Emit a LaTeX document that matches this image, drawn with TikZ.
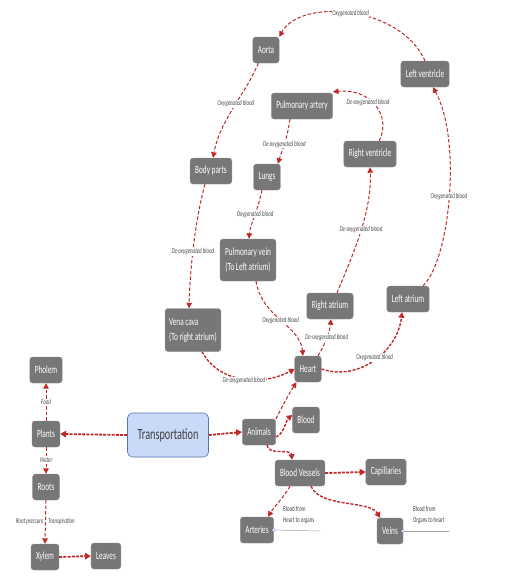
\documentclass[tikz,border=0pt]{standalone}
\usepackage{fontspec}
\newfontfamily\cf[FakeStretch=0.66]{Carlito}
\usetikzlibrary{arrows.meta}
\definecolor{boxgray}{HTML}{777777}
\definecolor{boxline}{HTML}{8E8E8E}
\definecolor{arrred}{HTML}{C0282A}
\definecolor{tfill}{HTML}{C9DAF8}
\definecolor{tdraw}{HTML}{5574B5}
\definecolor{ttext}{HTML}{404040}
\definecolor{lblgray}{HTML}{4A4A4A}
\definecolor{notegray}{HTML}{A0A0A0}
\definecolor{noteblue}{HTML}{9DB3DE}
\tikzset{
  box/.style={rectangle, rounded corners=3pt, fill=boxgray, draw=boxline, line width=0.4pt,
    text=white, font=\cf\fontsize{11}{15}\selectfont, inner xsep=5pt, inner ysep=2pt,
    minimum height=26pt, minimum width=26pt},
  tbox/.style={rectangle, rounded corners=5pt, fill=tfill, draw=tdraw, line width=0.6pt,
    text=ttext, font=\cf\fontsize{15.5}{18}\selectfont, minimum width=81pt, minimum height=44pt},
  conn/.style={draw=arrred, line width=1pt, dash pattern=on 3.5pt off 2pt,
    -{Triangle[length=5.5pt,width=5.5pt]}},
  boldconn/.style={conn, line width=1.8pt, dash pattern=on 3pt off 1.2pt,
    -{Triangle[length=6pt,width=6.5pt]}},
  midconn/.style={conn, line width=1.4pt, dash pattern=on 3pt off 1.5pt,
    -{Triangle[length=5.5pt,width=6pt]}},
  lbl/.style={font=\cf\itshape\fontsize{7.5}{8}\selectfont, text=lblgray, fill=white, inner sep=0.6pt},
  note/.style={font=\cf\fontsize{7.5}{11}\selectfont, text=black!75, align=left, inner sep=0pt, anchor=north west},
  noteline/.style={draw=notegray, line width=0.5pt}
}
\begin{document}
\begin{tikzpicture}[x=1pt,y=-1pt]
\useasboundingbox (0,0) rectangle (527,587);
\fill[white] (0,0) rectangle (527,587);

% nodes
\node[box] (ao) at (266,50) {Aorta};
\node[box] (lv) at (425,74) {Left ventricle};
\node[box] (pa) at (302,106) {Pulmonary artery};
\node[box] (rv) at (370,154) {Right ventricle};
\node[box] (bp) at (211,171) {Body parts};
\node[box] (lu) at (267,177) {Lungs};
\node[box, align=center, minimum height=42pt] (pv) at (248,260) {Pulmonary vein\\(To Left atrium)};
\node[box, align=left, minimum height=43pt, inner xsep=4pt] (vc) at (193,330) {Vena cava\\(To right atrium)};
\node[box] (ra) at (330,306) {Right atrium};
\node[box] (la) at (408,299) {Left atrium};
\node[box] (he) at (308,369) {Heart};
\node[box] (ph) at (46,370) {Pholem};
\node[box] (pl) at (46,434) {Plants};
\node[box] (ro) at (46,487) {Roots};
\node[box] (xy) at (45,557) {Xylem};
\node[box] (le) at (106,556) {Leaves};
\node[tbox] (tr) at (168,435) {Transportation};
\node[box] (an) at (259,432) {Animals};
\node[box] (bl) at (306,420) {Blood};
\node[box] (bv) at (300,473) {Blood Vessels};
\node[box] (ca) at (386,472) {Capillaries};
\node[box] (ar) at (257,530) {Arteries};
\node[box] (ve) at (390,531) {Veins};

% heart circulation
\draw[conn] (lv.north) .. controls (400,5) and (300,-2) .. (ao.north east)
  node[lbl, pos=0.5] {Oxygenated blood};
\draw[conn] (ao.240) .. controls (245,95) and (220,120) .. ([xshift=2pt]bp.north)
  node[lbl, pos=0.45] {Oxygenated blood};
\draw[conn] (rv.55) .. controls (392,115) and (370,88) .. ([yshift=1pt]pa.north east)
  node[lbl, pos=0.55, xshift=-4pt] {De-oxygenated blood};
\draw[conn] ([xshift=-12pt]pa.south) .. controls (287,140) and (282,150) .. ([xshift=11pt]lu.north)
  node[lbl, pos=0.5] {De-oxygenated blood};
\draw[conn] ([xshift=-5pt]lu.south) .. controls (258,210) and (250,225) .. ([xshift=1pt]pv.north)
  node[lbl, pos=0.45] {Oxygenated blood};
\draw[conn] ([xshift=-6pt]bp.south) .. controls (195,220) and (190,270) .. ([xshift=-4pt]vc.north)
  node[lbl, pos=0.55] {De-oxygenated blood};
\draw[conn] ([xshift=8pt]pv.south) .. controls (262,318) and (300,325) .. ([xshift=-5pt]he.north)
  node[lbl, pos=0.5] {Oxygenated blood};
\draw[midconn] ([xshift=9pt]vc.south) .. controls (220,385) and (265,385) .. (he.west)
  node[lbl, pos=0.5, yshift=-2pt] {De-oxygenated blood};
\draw[conn] ([xshift=10pt]he.north) .. controls (325,345) and (330,330) .. ([xshift=1pt]ra.south)
  node[lbl, pos=0.5] {De-oxygenated blood};
\draw[conn] ([xshift=7pt]ra.north) .. controls (355,250) and (372,210) .. (rv.south)
  node[lbl, pos=0.5] {De-oxygenated blood};
\draw[midconn] (he.east) .. controls (360,382) and (398,350) .. ([xshift=-6pt]la.south)
  node[lbl, pos=0.5, yshift=2pt] {Oxygenated blood};
\draw[conn] ([xshift=15pt]la.north) .. controls (450,260) and (462,140) .. ([xshift=8pt]lv.south)
  node[lbl, pos=0.5] {Oxygenated blood};

% plants
\draw[boldconn] (tr.west) -- (pl.east);
\draw[boldconn] (tr.east) -- (an.west);
\draw[conn] (pl.north) -- (ph.south) node[lbl, pos=0.5] {Food};
\draw[conn] (pl.south) -- (ro.north) node[lbl, pos=0.5] {Water};
\draw[conn] (ro.south) -- (xy.north)
  node[lbl, pos=0.5, anchor=east, xshift=-1pt] {Root pressure}
  node[lbl, pos=0.5, anchor=west, xshift=1.5pt] {Transpiration};
\draw[boldconn] (xy.east) -- (le.west);

% animals
\draw[conn] (an.north east) .. controls (283,405) and (290,392) .. ([xshift=2pt]he.south west);
\draw[midconn] ([yshift=-5pt]an.east) .. controls (284,434) and (286,420) .. ([yshift=5pt]bl.west);
\draw[midconn] ([xshift=8pt]an.south) .. controls (268,456) and (291,448) .. ([xshift=-8pt]bv.north);
\draw[boldconn] (bv.east) -- (ca.west);
\draw[conn] ([xshift=-10pt]bv.south) .. controls (284,497) and (274,507) .. ([xshift=11pt]ar.north);
\draw[midconn] ([xshift=11pt]bv.south) .. controls (320,508) and (370,500) .. ([xshift=-10pt]ve.north);

% notes
\node[note] (n1) at (283,506) {Blood from\\Heart to organs};
\node[note] (n2) at (413,506) {Blood from\\Organs to heart};
\coordinate (n1e) at (320,531);
\coordinate (n2e) at (449,531);
\draw[noteline] (ar.east) -- (n1e);
\draw[noteline] (ve.east) -- (n2e);
\draw[draw=noteblue, fill=white, line width=0.5pt] (ar.east) circle (1.6pt);
\draw[draw=noteblue, fill=white, line width=0.5pt] (ve.east) circle (1.6pt);
\end{tikzpicture}
\end{document}
